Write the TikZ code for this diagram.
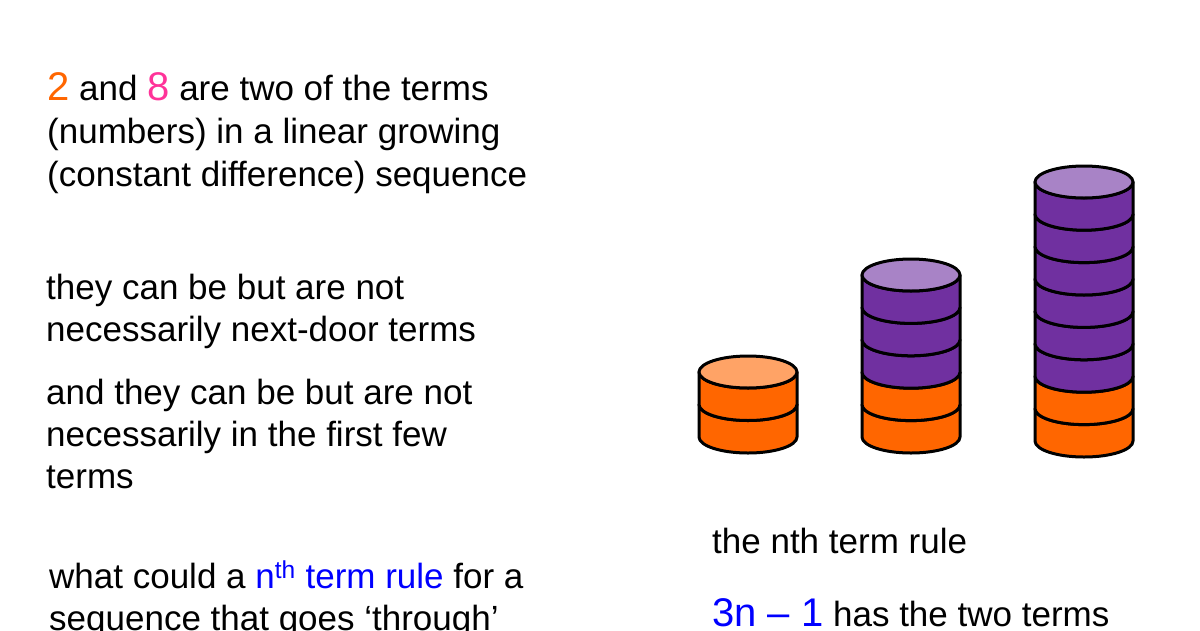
\documentclass[tikz,border=0pt]{standalone}
\usepackage{fontspec}
\setmainfont{Liberation Sans}
\definecolor{org}{HTML}{FF6600}
\definecolor{lorg}{HTML}{FFA366}
\definecolor{pur}{HTML}{7030A0}
\definecolor{lpur}{HTML}{A883C6}
\definecolor{pnk}{HTML}{FF3399}
\definecolor{blu}{HTML}{0000FF}
\begin{document}
\begin{tikzpicture}[x=1pt,y=-1pt,
  txt/.style={anchor=base west,inner sep=0pt,font=\fontsize{35}{40}\selectfont},
  seg/.style={draw=black,line width=3pt,line join=round}]
\clip (0,0) rectangle (1200,630);
\fill[white] (0,0) rectangle (1200,630);
% text
\node[txt] (l1) at (47,100) {{\color{org}\fontsize{40}{44}\selectfont 2} and {\color{pnk}\fontsize{40}{44}\selectfont 8} are two of the terms};
\node[txt] (l2) at (47,143) {(numbers) in a linear growing};
\node[txt] (l3) at (47,186) {(constant difference) sequence};
\node[txt] (l4) at (46,299) {they can be but are not};
\node[txt] (l5) at (46,341) {necessarily next-door terms};
\node[txt] (l6) at (46,404) {and they can be but are not};
\node[txt] (l7) at (46,446) {necessarily in the first few};
\node[txt] (l8) at (46,488) {terms};
\node[txt] (l9) at (49,588) {what could a {\color{blu}n\textsuperscript{th} term rule} for a};
\node[txt] (l10) at (49,630) {sequence that goes ‘through’};
\node[txt] (r1) at (712,553) {the nth term rule};
\node[txt] (r2) at (712,626) {{\color{blu}\fontsize{40}{44}\selectfont 3n – 1} has the two terms};
% stacks
\def\rx{49}\def\ry{16}
\newcommand\layer[4]{% cx, ytop, ybot, color
  \filldraw[seg,fill=#4] (#1-\rx,#2) -- (#1-\rx,#3) arc[start angle=180,end angle=0,x radius=\rx,y radius=\ry] -- (#1+\rx,#2) arc[start angle=0,end angle=180,x radius=\rx,y radius=\ry] -- cycle;}
\newcommand\topell[3]{\filldraw[seg,fill=#3] (#1,#2) ellipse[x radius=\rx,y radius=\ry];}
% stack 1
\layer{748}{404.5}{437}{org}
\layer{748}{372}{404.5}{org}
\topell{748}{372}{lorg}
% stack 2
\foreach \i/\c in {0/org,1/org,2/pur,3/pur,4/pur}{
  \pgfmathsetmacro\yb{437-32.4*\i}\pgfmathsetmacro\yt{\yb-32.4}
  \layer{911}{\yt}{\yb}{\c}}
\topell{911}{275}{lpur}
% stack 3
\foreach \i/\c in {0/org,1/org,2/pur,3/pur,4/pur,5/pur,6/pur,7/pur}{
  \pgfmathsetmacro\yb{441-32.4*\i}\pgfmathsetmacro\yt{\yb-32.4}
  \layer{1084}{\yt}{\yb}{\c}}
\topell{1084}{182}{lpur}
\end{tikzpicture}
\end{document}
